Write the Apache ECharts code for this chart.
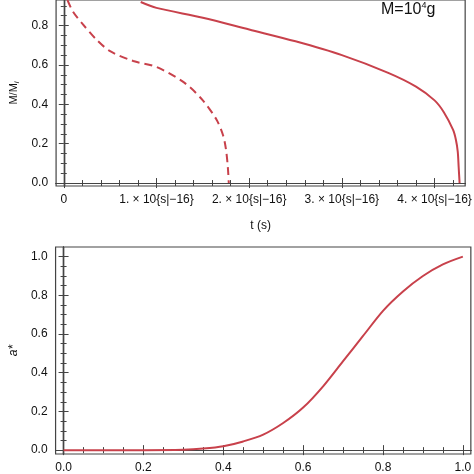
<!DOCTYPE html><html><head><meta charset="utf-8"><script src="https://cdn.jsdelivr.net/npm/echarts@6/dist/echarts.min.js"></script>
<style>html,body{margin:0;padding:0;background:#fff}#c{width:474px;height:474px}</style></head><body><div id="c"></div><script>
// top: t in units of 1e-16 s
const solidT=[0.83,1,1.5,2,2.5,3,3.5,3.8,4,4.1,4.2,4.23,4.25,4.26,4.27];
const solidM=[0.92,0.89,0.84,0.78,0.72,0.65,0.56,0.49,0.42,0.36,0.27,0.22,0.16,0.08,0];
const dashT=[0.04,0.1,0.2,0.35,0.5,0.75,1,1.3,1.5,1.65,1.72,1.75,1.77,1.78];
const dashM=[0.93,0.87,0.81,0.73,0.67,0.62,0.59,0.51,0.42,0.32,0.24,0.17,0.08,0];
const topTicks=[0,1,2,3,4];
const topMinor=[0.2,0.4,0.6,0.8,1.2,1.4,1.6,1.8,2.2,2.4,2.6,2.8,3.2,3.4,3.6,3.8,4.2];
const mTicks=[0,0.2,0.4,0.6,0.8];
const mMinor=[0.05,0.1,0.15,0.25,0.3,0.35,0.45,0.5,0.55,0.65,0.7,0.75,0.85,0.9];
const aX=[0,0.1,0.2,0.3,0.35,0.4,0.45,0.5,0.55,0.6,0.65,0.7,0.75,0.8,0.85,0.9,0.95,1.0];
const aY=[0,0,0,0.002,0.008,0.02,0.045,0.08,0.14,0.22,0.33,0.46,0.59,0.72,0.82,0.9,0.96,1.0];
const bTicks=[0,0.2,0.4,0.6,0.8,1.0];
const bMinor=[0.05,0.1,0.15,0.25,0.3,0.35,0.45,0.5,0.55,0.65,0.7,0.75,0.85,0.9,0.95];
const col='#c8414b';
const lab={color:'#111',fontSize:12,fontFamily:'Liberation Sans'};
function axis(type,grid,min,max,pos,ticks,len,labels,fmt,extra){
  const a={type:'value',gridIndex:grid,min,max,position:pos,splitLine:{show:false},
    axisLine:{show:true,lineStyle:{color:'#444',width:1.2}},
    axisTick:{show:true,inside:true,length:len,customValues:ticks,lineStyle:{color:'#444'}},
    axisLabel:labels?Object.assign({},lab,{customValues:ticks,formatter:fmt}):{show:false}};
  return Object.assign(a,extra||{});
}
function tfmt(v){const r=Math.round(v);if(r===0)return '0';return r+'. × 10{s|−16}';}
const f1=v=>v.toFixed(1);
const chart=echarts.init(document.getElementById('c'));
const xr0=[-0.083,4.33], yr0=[-0.015,0.93], xr1=[-0.02,1.02], yr1=[-0.02,1.05];
chart.setOption({animation:false,
grid:[{left:45,right:4,top:0,height:186,show:true,borderColor:'#444',borderWidth:1.2},{left:45,right:3,top:247,height:214,show:true,borderColor:'#444',borderWidth:1.2}],
xAxis:[
 axis('x',0,xr0[0],xr0[1],'bottom',topTicks,5,true,tfmt,{name:'t (s)',nameLocation:'middle',nameGap:34,nameTextStyle:lab}),
 axis('x',0,xr0[0],xr0[1],'bottom',topMinor,3,false),
 axis('x',0,xr0[0],xr0[1],'top',topTicks,5,false),
 axis('x',0,xr0[0],xr0[1],'top',topMinor,3,false),
 axis('x',1,xr1[0],xr1[1],'bottom',bTicks,5,true,f1),
 axis('x',1,xr1[0],xr1[1],'bottom',bMinor,3,false),
 axis('x',1,xr1[0],xr1[1],'top',bTicks,5,false),
 axis('x',1,xr1[0],xr1[1],'top',bMinor,3,false)
],
yAxis:[
 axis('y',0,yr0[0],yr0[1],'left',mTicks,5,true,f1,{name:'M/M{i|i}',nameLocation:'middle',nameGap:30,nameTextStyle:Object.assign({},lab,{fontSize:11,rich:{i:{fontSize:8,fontStyle:'italic',verticalAlign:'bottom',padding:[6,0,0,0]}}})}),
 axis('y',0,yr0[0],yr0[1],'left',mMinor,3,false),
 axis('y',0,yr0[0],yr0[1],'right',mTicks,5,false),
 axis('y',0,yr0[0],yr0[1],'right',mMinor,3,false),
 axis('y',1,yr1[0],yr1[1],'left',bTicks,5,true,f1,{name:'a*',nameLocation:'middle',nameGap:30,nameTextStyle:Object.assign({},lab,{fontSize:12,fontStyle:'italic'})}),
 axis('y',1,yr1[0],yr1[1],'left',bMinor,3,false),
 axis('y',1,yr1[0],yr1[1],'right',bTicks,5,false),
 axis('y',1,yr1[0],yr1[1],'right',bMinor,3,false)
],
graphic:[{type:'text',left:381,top:1,style:{text:'M=10{s|4}g',rich:{s:{fontSize:9,verticalAlign:'top',padding:[0,0,8,0]}},fontSize:16,fill:'#111',fontFamily:'Liberation Sans'}}],
series:[
 {type:'line',xAxisIndex:0,yAxisIndex:0,data:solidT.map((t,i)=>[t,solidM[i]]),smooth:0.3,symbol:'none',lineStyle:{color:col,width:2}},
 {type:'line',xAxisIndex:0,yAxisIndex:0,data:dashT.map((t,i)=>[t,dashM[i]]),smooth:0.3,symbol:'none',lineStyle:{color:col,width:2,type:[8,5]}},
 {type:'line',xAxisIndex:4,yAxisIndex:4,data:aX.map((x,i)=>[x,aY[i]]),smooth:0.3,symbol:'none',lineStyle:{color:col,width:2}}
]});
</script></body></html>
